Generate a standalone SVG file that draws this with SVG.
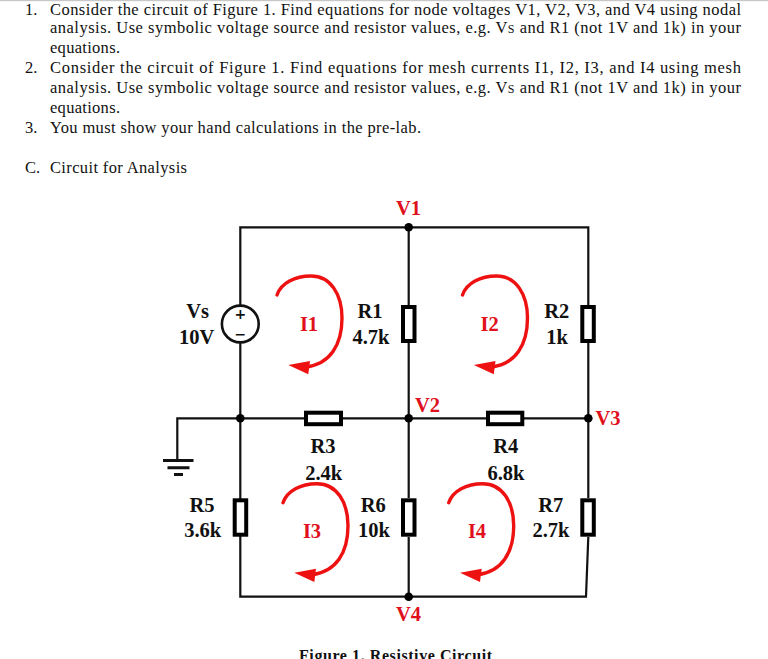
<svg xmlns="http://www.w3.org/2000/svg" width="768" height="659" viewBox="0 0 768 659">
<defs>
<style>
.body{font:16.5px "Liberation Serif",serif;fill:#111}
.lab{font:bold 20.5px "Liberation Serif",serif;fill:#111;text-anchor:middle}
.red{font:bold 20.5px "Liberation Serif",serif;fill:#e0101c;text-anchor:middle}
.wire{fill:none;stroke:#111;stroke-width:2.2}
.res{fill:#fff;stroke:#000;stroke-width:4}
.dot{fill:#000}
.pol{font:bold 14px "DejaVu Sans",sans-serif;fill:#111;text-anchor:middle}
.loop{fill:none;stroke:#ee1111;stroke-width:3.4;stroke-linecap:round}
.head{fill:#ee1111}
</style>
<g id="loopshape">
<path class="loop" d="M277 295C281 283 295 276 311 276C331 276 342 295 342 318C342 345 330 364 306 367"/>
<path class="head" d="M288.3 365L310 361L308.3 374.3Z"/>
</g>
</defs>
<rect width="768" height="659" fill="#fff"/>
<rect width="768" height="1.2" fill="#c8c8c8"/>
<g id="text">
<text class="body" x="25" y="14.7">1.</text>
<text class="body" x="50" y="14.7" textLength="691">Consider the circuit of Figure 1. Find equations for node voltages V1, V2, V3, and V4 using nodal</text>
<text class="body" x="50" y="33" textLength="691">analysis. Use symbolic voltage source and resistor values, e.g. V<tspan font-size="12">S</tspan> and R1 (not 1V and 1k) in your</text>
<text class="body" x="50" y="53" textLength="70">equations.</text>
<text class="body" x="25" y="73">2.</text>
<text class="body" x="50" y="73" textLength="691">Consider the circuit of Figure 1. Find equations for mesh currents I1, I2, I3, and I4 using mesh</text>
<text class="body" x="50" y="93" textLength="691">analysis. Use symbolic voltage source and resistor values, e.g. V<tspan font-size="12">S</tspan> and R1 (not 1V and 1k) in your</text>
<text class="body" x="50" y="113" textLength="70">equations.</text>
<text class="body" x="25" y="133">3.</text>
<text class="body" x="50" y="133" textLength="371">You must show your hand calculations in the pre-lab.</text>
<text class="body" x="25" y="173">C.</text>
<text class="body" x="50" y="173" textLength="137">Circuit for Analysis</text>
<text x="299" y="661" textLength="193" style="font:bold 16px 'Liberation Serif',serif;fill:#111">Figure 1. Resistive Circuit</text>
</g>
<g id="connectors">
<path class="wire" d="M240.3 305V227.3H588.3V305M240.3 343V596.7H586L588.3 537"/>
<path class="wire" d="M408.7 227.3V305M408.7 343V498M408.7 537V596.7"/>
<path class="wire" d="M588.3 343V498"/>
<path class="wire" d="M177.3 460V418.3H304M343 418.3H486M524 418.3H588.3"/>
</g>
<g id="ground">
<path class="wire" style="stroke-width:3" d="M163 460.5H193.5M167.5 467.7H189.5M174 474.5H183"/>
</g>
<g id="Vs">
<circle cx="240.3" cy="324" r="18.4" fill="#fff" stroke="#111" stroke-width="2.6"/>
<text class="pol" x="240.3" y="319.2">+</text>
<text class="pol" x="240.3" y="338.5">−</text>
<text class="lab" x="197.7" y="318">Vs</text>
<text class="lab" x="196.7" y="343.7">10V</text>
</g>
<g id="R1"><rect class="res" x="403" y="307" width="11.5" height="34"/><text class="lab" x="370" y="318">R1</text><text class="lab" x="371" y="343.7">4.7k</text></g>
<g id="R2"><rect class="res" x="582.3" y="307" width="11.5" height="34"/><text class="lab" x="556.7" y="318">R2</text><text class="lab" x="557" y="343.7">1k</text></g>
<g id="R3"><rect class="res" x="306" y="412.7" width="35" height="11.5"/><text class="lab" x="323" y="453.3">R3</text><text class="lab" x="323.7" y="480">2.4k</text></g>
<g id="R4"><rect class="res" x="488" y="412.7" width="34.3" height="11.5"/><text class="lab" x="505.7" y="453.3">R4</text><text class="lab" x="506" y="480">6.8k</text></g>
<g id="R5"><rect class="res" x="234.7" y="500.3" width="11.5" height="34.4"/><text class="lab" x="202" y="511.7">R5</text><text class="lab" x="202.7" y="537.3">3.6k</text></g>
<g id="R6"><rect class="res" x="403" y="500.3" width="11.5" height="34.4"/><text class="lab" x="373.3" y="511.7">R6</text><text class="lab" x="374" y="537.3">10k</text></g>
<g id="R7"><rect class="res" x="582.3" y="500.3" width="11.5" height="34.4"/><text class="lab" x="550.7" y="511.7">R7</text><text class="lab" x="551" y="537.3">2.7k</text></g>
<g id="V1"><circle class="dot" cx="408.7" cy="227.3" r="4.3"/><text class="red" x="408.5" y="215">V1</text></g>
<g id="V2"><circle class="dot" cx="408.7" cy="418.3" r="4.3"/><text class="red" x="427.5" y="411.5">V2</text></g>
<g id="V3"><circle class="dot" cx="588.3" cy="418.3" r="4.3"/><text class="red" x="608" y="425">V3</text></g>
<g id="V4"><circle class="dot" cx="408.7" cy="596.7" r="4.3"/><text class="red" x="408.5" y="621">V4</text></g>
<circle id="gnd-node" class="dot" cx="240.3" cy="418.3" r="4.3"/>
<g id="I1"><use href="#loopshape"/><text class="red" x="309" y="330.7">I1</text></g>
<g id="I2"><use href="#loopshape" transform="translate(185.5 0)"/><text class="red" x="489.7" y="330.7">I2</text></g>
<g id="I3"><use href="#loopshape" transform="translate(6 207.7)"/><text class="red" x="312" y="538">I3</text></g>
<g id="I4"><use href="#loopshape" transform="translate(171.7 207.7)"/><text class="red" x="477" y="538">I4</text></g>
</svg>
